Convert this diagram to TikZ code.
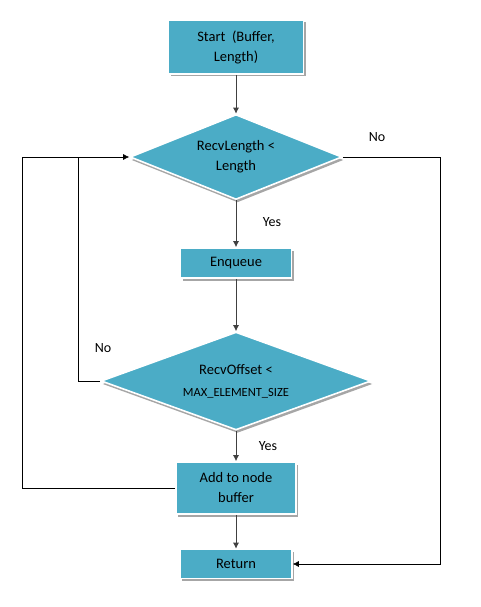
\documentclass[tikz,border=0pt]{standalone}
\usepackage{fontspec}
\setmainfont{Carlito}
\usetikzlibrary{shapes.geometric,shadows,arrows.meta,calc}
\definecolor{boxfill}{HTML}{4BACC6}
\begin{document}
\begin{tikzpicture}[x=1pt,y=-1pt,
  fbox/.style={rectangle,fill=boxfill,draw=white,line width=1.6pt,
    drop shadow={shadow xshift=2pt,shadow yshift=-2.5pt,fill=black!35,opacity=1},
    align=center,font=\fontsize{14.5}{20}\selectfont,inner sep=0pt},
  fdia/.style={diamond,fill=boxfill,draw=white,line width=1.6pt,
    drop shadow={shadow xshift=1.5pt,shadow yshift=-3pt,fill=black!35,opacity=1},
    align=center,font=\fontsize{14.5}{20}\selectfont,inner sep=0pt},
  flow/.style={draw=black!75,line width=0.9pt,-{Latex[length=6pt,width=6pt]}},
  conn/.style={draw=black,line width=0.6pt},
  conna/.style={conn,-{Latex[length=6pt,width=6pt]}},
  lbl/.style={font=\fontsize{14}{16}\selectfont,inner sep=0pt}]
\useasboundingbox[fill=white] (0,0) rectangle (481,607);
\node[fbox,minimum width=135pt,minimum height=54pt] (start) at (236,47) {Start\ \ (Buffer,\\Length)};
\node[fdia,aspect=2.5,minimum width=212pt,minimum height=85pt] (d1) at (236,157) {RecvLength <\\Length};
\node[fbox,minimum width=111pt,minimum height=30pt] (enq) at (236,263) {Enqueue};
\node[fdia,aspect=2.75,minimum width=270pt,minimum height=98pt] (d2) at (236,381)
  {RecvOffset <\\[2pt]{\fontsize{12.5}{14}\selectfont MAX\_ELEMENT\_SIZE}};
\node[fbox,minimum width=120pt,minimum height=52pt] (add) at (236,488) {Add to node\\buffer};
\node[fbox,minimum width=112pt,minimum height=29pt] (ret) at (236,564) {Return};
\coordinate (l1) at (22,157);
\coordinate (l3) at (78,157);
\coordinate (r1) at (440,157);
\draw[flow] (start) -- (d1);
\draw[flow] (d1) -- (enq);
\draw[flow] (enq) -- (d2);
\draw[flow] (d2) -- (add);
\draw[flow] (add) -- (ret);
\draw[conna] (add.west) -| (l1) -- (d1.west);
\draw[conn] (d2.west) -| (l3);
\draw[conna] (d1.east) -- (r1) |- (ret.east);
\node[lbl] (no1) at (377,137) {No};
\node[lbl] (no2) at (103,348) {No};
\node[lbl] (yes1) at (272,222) {Yes};
\node[lbl] (yes2) at (268,446) {Yes};
\end{tikzpicture}
\end{document}
